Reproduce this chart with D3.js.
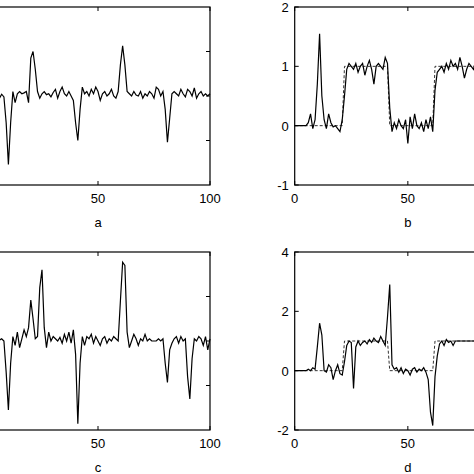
<!DOCTYPE html>
<html><head><meta charset="utf-8">
<script src="https://cdn.jsdelivr.net/npm/d3@7"></script>
<style>body{margin:0;background:#fff}</style>
</head><body>
<svg id="fig" width="474" height="474"></svg>
<script>
// sample index 0..100
let seriesA = [0,0.02,-0.03,0.05,0.0,0.03,-0.05,0.04,-0.02,-0.6,
-1.54,-0.6,0.1,-0.15,0.05,0.1,0.05,0.07,0.1,-0.15,
0.85,1.0,0.6,0.1,-0.05,0.05,0.1,0.03,0.05,-0.02,
0.08,0.15,-0.05,0.1,0.2,0.05,0.0,0.1,0.0,-0.1,
-0.6,-1.0,-0.3,0.2,0.05,0.1,0.0,0.15,0.05,0.2,
0.1,-0.1,0.05,0.1,0.0,0.05,0.15,0.0,-0.05,0.1,
0.7,1.13,0.7,0.1,0.05,0.0,0.1,0.02,0.0,0.1,
-0.05,0.05,0.0,0.1,0.05,-0.05,0.2,0.15,0.0,0.1,
-0.3,-1.04,-0.5,0.05,0.1,0.05,0.0,0.15,0.05,-0.02,
0.15,0.1,0.0,0.18,-0.05,0.05,0.1,0.0,0.05,0.0,0.05];

let seriesB = [0,0,0,0,0,0,0.05,0.2,-0.05,0.1,
0.7,1.55,0.5,0.1,-0.05,0.2,0.05,-0.02,0.0,-0.05,
-0.1,0.1,0.5,0.95,1.05,1.0,0.95,1.05,0.9,1.0,
1.05,0.85,1.0,1.1,0.95,0.7,1.0,1.05,1.0,0.95,
1.15,1.05,0.3,-0.1,0.05,-0.05,0.1,0.0,-0.05,0.1,
-0.3,0.15,-0.05,0.2,0.0,-0.05,0.05,-0.1,0.1,-0.05,
0.15,-0.1,0.6,0.9,0.95,1.0,0.9,1.05,0.95,1.1,
1.0,1.05,0.95,1.15,1.0,0.8,0.95,1.05,1.0,0.95,
1.1,1.0,0.9,1.05,1.0,0.95,1.1,1.0,0.9,1.05,
1.0,0.95,1.05,1.0,1.1,0.95,1.0,1.05,0.9,1.0,1.0];

let seriesC = [0,0.02,0.05,-0.03,0.0,0.04,0.02,0.05,0.0,-0.7,
-1.55,-0.5,0.1,-0.1,0.2,-0.15,0.05,0.25,0.1,0.3,
0.92,0.5,0.05,0.1,1.2,1.6,0.3,-0.15,0.2,0.0,
0.1,0.05,0.0,0.08,-0.05,0.15,0.0,0.2,-0.05,0.25,
-0.3,-1.86,-0.5,0.1,-0.1,0.1,0.05,0.15,-0.05,0.1,
0.0,-0.1,0.05,0.1,-0.05,0.05,0.0,0.1,0.05,0.0,
0.9,1.77,1.7,0.2,-0.15,0.0,0.15,0.05,-0.1,0.05,
0.0,0.15,0.0,0.05,0.0,0.0,0.0,0.05,0.0,0.05,
-0.5,-0.93,-0.2,-0.05,0.05,0.1,-0.05,0.1,0.0,0.05,
-0.8,-1.3,-0.4,0.05,0.0,0.1,0.05,-0.1,0.1,-0.2,0.05];

let seriesD = [0,0,0,0,0,0,0.05,0,0.1,0.05,
0.8,1.6,1.2,0.0,-0.05,0.2,0.1,-0.3,0.0,0.2,
-0.1,-0.15,0.3,0.85,1.0,0.95,-0.6,0.8,1.0,0.85,
0.95,1.0,0.9,1.05,0.95,1.1,1.0,0.95,1.15,1.0,
0.85,1.8,2.9,0.2,0.05,0.1,-0.05,0.1,-0.1,0.05,
0.0,-0.15,0.05,0.1,-0.05,0.05,0.0,0.1,-0.05,-0.3,
-1.4,-1.85,-0.2,0.5,0.9,1.0,0.85,1.05,0.95,1.0,
0.85,1.0,1.0,1.0,1.0,1.0,1.0,1.0,1.0,1.0,
1.0,1.0,1.0,1.0,1.0,1.0,1.0,1.0,1.0,1.0,
1.0,1.0,1.0,1.0,1.0,1.0,1.0,1.0,1.0,1.0,1.0];

// dashed reference step signal (b and d)
let refX = [0, 21, 22, 41, 42, 61, 62, 100];
let refY = [0, 0, 1, 1, 0, 0, 1, 1];

let xTicks = [0, 50, 100];

let panels = [
  { data: seriesA, name: "a", x0: -14, x1: 210, top: 7, bottom: 185, dom: [-2, 2], ticks: [-1, 0, 1], ref: false },
  { data: seriesB, name: "b", x0: 294.7, x1: 521, top: 7, bottom: 185, dom: [-1, 2], ticks: [-1, 0, 1, 2], ref: true },
  { data: seriesC, name: "c", x0: -14, x1: 210, top: 252, bottom: 430, dom: [-2, 2], ticks: [-1, 0, 1], ref: false },
  { data: seriesD, name: "d", x0: 294.7, x1: 521, top: 252, bottom: 430, dom: [-2, 4], ticks: [-2, 0, 2, 4], ref: true }
];

let svg = d3.select("#fig");
let font = "Liberation Sans, Arial, sans-serif";

panels.forEach(function (p) {
  let g = svg.append("g");
  let x = d3.scaleLinear().domain([0, 100]).range([p.x0, p.x1]);
  let y = d3.scaleLinear().domain(p.dom).range([p.bottom, p.top]);

  let line = d3.line()
    .x(function (d, i) { return x(i); })
    .y(function (d) { return y(d); });

  if (p.ref) {
    let refLine = d3.line()
      .x(function (d, i) { return x(refX[i]); })
      .y(function (d) { return y(d); });
    g.append("path")
      .attr("d", refLine(refY))
      .attr("fill", "none")
      .attr("stroke", "#333")
      .attr("stroke-width", 1)
      .attr("stroke-dasharray", "3,2");
  }

  g.append("path")
    .attr("d", line(p.data))
    .attr("fill", "none")
    .attr("stroke", "#000")
    .attr("stroke-width", 1.2);

  // frame
  g.append("rect")
    .attr("x", p.x0).attr("y", p.top)
    .attr("width", p.x1 - p.x0).attr("height", p.bottom - p.top)
    .attr("fill", "none").attr("stroke", "#000").attr("stroke-width", 1.2);

  // inward ticks on all sides; labels only where they fall inside the view
  xTicks.forEach(function (t) {
    g.append("line").attr("x1", x(t)).attr("x2", x(t)).attr("y1", p.bottom).attr("y2", p.bottom - 4).attr("stroke", "#000");
    g.append("line").attr("x1", x(t)).attr("x2", x(t)).attr("y1", p.top).attr("y2", p.top + 4).attr("stroke", "#000");
    if (x(t) > 5 && x(t) < 460) {
      g.append("text").attr("x", x(t)).attr("y", p.bottom + 18)
        .attr("text-anchor", "middle").attr("font-family", font).attr("font-size", 13)
        .text(t);
    }
  });
  p.ticks.forEach(function (t) {
    g.append("line").attr("x1", p.x0).attr("x2", p.x0 + 4).attr("y1", y(t)).attr("y2", y(t)).attr("stroke", "#000");
    g.append("line").attr("x1", p.x1).attr("x2", p.x1 - 4).attr("y1", y(t)).attr("y2", y(t)).attr("stroke", "#000");
    if (p.x0 > 20) {
      g.append("text").attr("x", p.x0 - 6).attr("y", y(t) + 5)
        .attr("text-anchor", "end").attr("font-family", font).attr("font-size", 13)
        .text(t);
    }
  });

  g.append("text").attr("x", x(50)).attr("y", p.bottom + 42)
    .attr("text-anchor", "middle").attr("font-family", font).attr("font-size", 13)
    .text(p.name);
});
</script>
</body></html>
